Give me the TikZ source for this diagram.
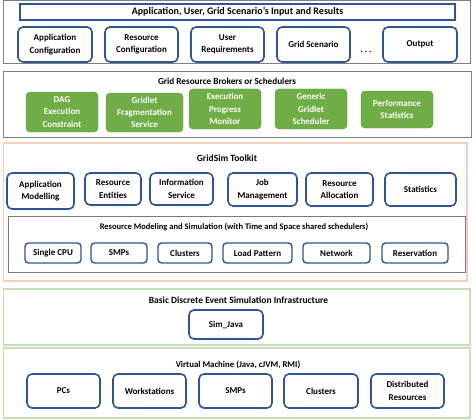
\documentclass[tikz,border=0pt]{standalone}
\usepackage{fontspec}
\setmainfont{Carlito}
\definecolor{boxblue}{RGB}{47,85,151}
\definecolor{boxgreen}{RGB}{112,173,71}
\definecolor{laygrey}{RGB}{128,128,128}
\definecolor{laypeach}{RGB}{244,208,188}
\definecolor{laygreen}{RGB}{200,222,182}
\definecolor{innergrey}{RGB}{120,120,135}
\begin{document}
\begin{tikzpicture}[x=1pt,y=-1pt,
  every node/.style={font=\fontsize{9}{12.3}\selectfont\bfseries, inner sep=0pt, align=center},
  bluebox/.style={draw=boxblue, line width=1.6pt, rounded corners=5pt, fill=white},
  smallbox/.style={draw=boxblue, line width=1.4pt, rounded corners=3.5pt, fill=white},
  greenbox/.style={fill=boxgreen, draw=boxgreen!90!black, line width=0.4pt, rounded corners=4pt, text=white},
  titlebar/.style={draw=boxblue, line width=1.5pt, fill=white},
  layertitle/.style={font=\fontsize{#1}{12}\selectfont\bfseries},
  layertitle/.default=9
]
\useasboundingbox (0,0) rectangle (474,420);
\fill[white] (0,0) rectangle (474,420);

% Layer 1
\draw[laygrey, line width=1pt] (3.5,0.5) rectangle (470.5,64);
\node[titlebar, minimum width=435pt, minimum height=16pt, font=\fontsize{10}{12}\selectfont\bfseries] (top) at (237.5,12) {Application, User, Grid Scenario’s Input and Results};
\node[bluebox, minimum width=74pt, minimum height=35pt] (appconf) at (55,44.5) {Application\\Configuration};
\node[bluebox, minimum width=73pt, minimum height=35pt] (resconf) at (141.5,44.5) {Resource\\Configuration};
\node[bluebox, minimum width=73pt, minimum height=35pt] (userreq) at (227.5,44.5) {User\\Requirements};
\node[bluebox, minimum width=73pt, minimum height=35pt] (gridscen) at (313.5,44.5) {Grid Scenario};
\node (dots) at (366,52) {.\hspace{2pt}.\hspace{2pt}.};
\node[bluebox, minimum width=74pt, minimum height=35pt] (output) at (420,44.5) {Output};

% Layer 2
\draw[laygrey, line width=1pt] (3.5,72) rectangle (471,137);
\node[layertitle=9.2] (brokers) at (227,81) {Grid Resource Brokers or Schedulers};
\node[greenbox, minimum width=72pt, minimum height=40pt] (dag) at (62,112) {DAG\\Execution\\Constraint};
\node[greenbox, minimum width=77pt, minimum height=39pt] (frag) at (144.5,112.5) {Gridlet\\Fragmentation\\Service};
\node[greenbox, minimum width=72pt, minimum height=40pt] (exec) at (225,109) {Execution\\Progress\\Monitor};
\node[greenbox, minimum width=72pt, minimum height=40pt] (generic) at (311,109) {Generic\\Gridlet\\Scheduler};
\node[greenbox, minimum width=72pt, minimum height=37pt] (perf) at (397,109.5) {Performance\\Statistics};

% Layer 3
\draw[laypeach, line width=1.2pt] (3.5,143) rectangle (467,281);
\node[layertitle=9.5] (gridsim) at (227,158) {GridSim Toolkit};
\node[bluebox, minimum width=67pt, minimum height=36pt] (appmod) at (40.5,191) {Application\\Modelling};
\node[bluebox, minimum width=56pt, minimum height=32pt] (resent) at (113,189) {Resource\\Entities};
\node[bluebox, minimum width=63pt, minimum height=32pt] (info) at (181.5,189) {Information\\Service};
\node[bluebox, minimum width=69pt, minimum height=33pt] (job) at (262.5,189.5) {Job\\Management};
\node[bluebox, minimum width=67pt, minimum height=33pt] (resalloc) at (339.5,189.5) {Resource\\Allocation};
\node[bluebox, minimum width=71pt, minimum height=33pt] (stats) at (420.5,189.5) {Statistics};

\draw[innergrey, line width=1pt] (8.5,216) rectangle (465,272);
\node[layertitle=8.5] (resmod) at (234,227) {Resource Modeling and Simulation (with Time and Space shared schedulers)};
\node[smallbox, minimum width=56pt, minimum height=20pt] (single) at (53,253) {Single CPU};
\node[smallbox, minimum width=56pt, minimum height=20pt] (smpsa) at (119,253) {SMPs};
\node[smallbox, minimum width=54pt, minimum height=20pt] (clustersa) at (185,253) {Clusters};
\node[smallbox, minimum width=69pt, minimum height=20pt] (load) at (257.5,253) {Load Pattern};
\node[smallbox, minimum width=67pt, minimum height=20pt] (network) at (336.5,253) {Network};
\node[smallbox, minimum width=66pt, minimum height=20pt] (reserv) at (415,253) {Reservation};

% Layer 4
\draw[laygreen, line width=1.2pt] (3.5,289) rectangle (470,345);
\node[layertitle=9.5] (basic) at (238.5,300) {Basic Discrete Event Simulation Infrastructure};
\node[bluebox, minimum width=74pt, minimum height=29pt] (simjava) at (226,324.5) {Sim\_Java};

% Layer 5
\draw[laygreen, line width=1.2pt] (3.5,348) rectangle (470,418);
\node[layertitle=8.8] (vm) at (238,365) {Virtual Machine (Java, cJVM, RMI)};
\node[bluebox, minimum width=73pt, minimum height=34pt] (pcs) at (63.5,391) {PCs};
\node[bluebox, minimum width=73pt, minimum height=34pt] (ws) at (149.5,391) {Workstations};
\node[bluebox, minimum width=73pt, minimum height=34pt] (smpsb) at (235.5,391) {SMPs};
\node[bluebox, minimum width=74pt, minimum height=34pt] (clustersb) at (321,391) {Clusters};
\node[bluebox, minimum width=73pt, minimum height=34pt] (dist) at (407.5,391) {Distributed\\Resources};
\end{tikzpicture}
\end{document}
